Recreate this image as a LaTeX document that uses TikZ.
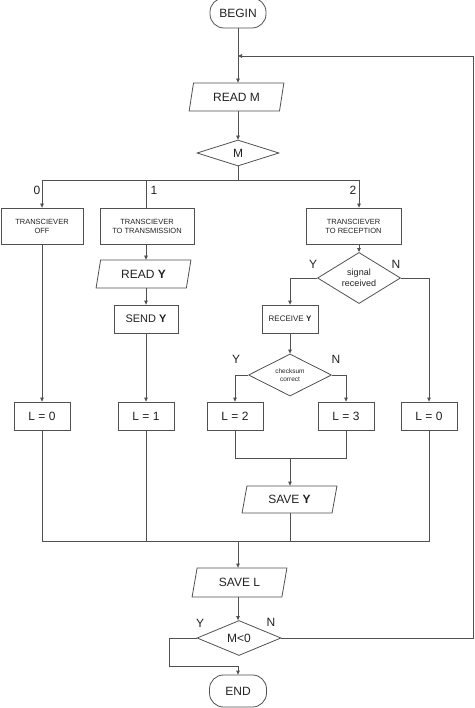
\documentclass[tikz,border=0pt]{standalone}
\usepackage{fontspec}
\setmainfont{Liberation Sans}
\usetikzlibrary{shapes.geometric,arrows.meta}
\definecolor{lc}{HTML}{505050}
\definecolor{tc}{HTML}{222222}
\tikzset{
  line/.style={draw=lc, line width=0.8pt},
  arr/.style={line, -{Triangle[length=4pt,width=3.6pt]}},
  base/.style={draw=lc, line width=0.8pt, inner sep=0pt, align=center, text=tc},
  box/.style={base, rectangle},
  io/.style={base, trapezium, trapezium left angle=74, trapezium right angle=106, trapezium stretches=true},
  dec/.style={base, diamond},
  term/.style={base, rectangle, rounded corners=14pt},
  big/.style={font=\fontsize{12}{14}\selectfont},
  mid/.style={font=\fontsize{11}{13}\selectfont},
  sml/.style={font=\fontsize{7.5}{9}\selectfont},
  lbl/.style={text=tc, inner sep=0pt, font=\fontsize{12}{14}\selectfont},
}
\begin{document}
\begin{tikzpicture}[x=1pt,y=-1pt]
\useasboundingbox (0,0) rectangle (474,708);
% nodes
\node[term,big,minimum width=56pt,minimum height=30pt] (begin) at (238,13) {BEGIN};
\node[io,big,minimum width=95pt,minimum height=28pt] (readm) at (236.5,97) {READ M};
\node[dec,big,minimum width=82pt,minimum height=26pt] (mdec) at (238,153) {M};
\node[box,sml,minimum width=82pt,minimum height=36pt] (off) at (42,226) {TRANSCIEVER\\OFF};
\node[box,sml,minimum width=94pt,minimum height=36pt] (trans) at (147,226) {TRANSCIEVER\\TO TRANSMISSION};
\node[box,sml,minimum width=95pt,minimum height=36pt] (rec) at (353.5,226) {TRANSCIEVER\\TO RECEPTION};
\node[io,big,minimum width=95pt,minimum height=28pt] (ready) at (143.5,274) {READ \textbf{Y}};
\node[box,mid,minimum width=64pt,minimum height=28pt] (sendy) at (146,319) {SEND \textbf{Y}};
\node[dec,font=\fontsize{9}{10.5}\selectfont,minimum width=83pt,minimum height=34pt] (sig) at (359,278) {signal\\received};
\node[box,font=\fontsize{8}{9}\selectfont,minimum width=56pt,minimum height=28pt] (recy) at (290,319) {RECEIVE \textbf{Y}};
\node[dec,font=\fontsize{6.5}{8}\selectfont,minimum width=83pt,minimum height=34pt] (chk) at (290,375) {checksum\\correct};
\node[box,big,minimum width=56pt,minimum height=28pt] (l0) at (42,416) {L = 0};
\node[box,big,minimum width=56pt,minimum height=28pt] (l1) at (146,416) {L = 1};
\node[box,big,minimum width=56pt,minimum height=28pt] (l2) at (235,416) {L = 2};
\node[box,big,minimum width=56pt,minimum height=28pt] (l3) at (346,416) {L = 3};
\node[box,big,minimum width=56pt,minimum height=28pt] (l0b) at (429,416) {L = 0};
\node[io,big,minimum width=95pt,minimum height=27pt] (savey) at (289.5,499.5) {SAVE \textbf{Y}};
\node[io,big,minimum width=95pt,minimum height=29pt] (savel) at (239.5,582.5) {SAVE L};
\node[dec,big,minimum width=84pt,minimum height=35pt] (mlt) at (239,638) {M<0};
\node[term,big,minimum width=57pt,minimum height=32pt] (end) at (238,691) {END};
% labels
\node[lbl] (t0) at (37,190) {0};
\node[lbl] (t1) at (154,190) {1};
\node[lbl] (t2) at (353,190) {2};
\node[lbl] (sy) at (313,264) {Y};
\node[lbl] (sn) at (396,264) {N};
\node[lbl] (cy) at (236,359) {Y};
\node[lbl] (cn) at (336,359) {N};
\node[lbl] (my) at (200,623) {Y};
\node[lbl] (mn) at (271,622) {N};
% coordinates
\coordinate (loopin) at (238,56);
\coordinate (loopr) at (473.5,56);
\coordinate (d0) at (42,180);
\coordinate (d1) at (146,180);
\coordinate (d2) at (359,180);
\coordinate (m1) at (235,458);
\coordinate (m2) at (346,458);
\coordinate (mm) at (290,458);
\coordinate (b0) at (42,541);
\coordinate (b4) at (429,541);
\coordinate (bm) at (238,541);
\coordinate (yl) at (169,638);
\coordinate (yb) at (169,666);
\coordinate (ye) at (238,666);
% connectors
\draw[line] (begin.south) -- (loopin);
\draw[arr] (loopin) -- (begin.south |- readm.north);
\draw[arr] (begin.south |- readm.south) -- (mdec.north);
\draw[line] (mdec.south) -- (mdec.south |- d0);
\draw[line] (d0) -- (d2);
\draw[arr] (d0) -- (off.north);
\draw[line] (d1) -- (trans.north -| d1);
\draw[arr] (d2) -- (d2 |- rec.north);
\draw[arr] (d1 |- trans.south) -- (d1 |- ready.north);
\draw[arr] (d1 |- ready.south) -- (d1 |- sendy.north);
\draw[arr] (d2 |- rec.south) -- (sig.north);
\draw[arr] (sig.west) -| (recy.north);
\draw[arr] (sig.east) -| (l0b.north);
\draw[arr] (recy.south) -- (chk.north);
\draw[arr] (chk.west) -| (l2.north);
\draw[arr] (chk.east) -| (l3.north);
\draw[arr] (off.south) -- (l0.north);
\draw[arr] (sendy.south) -- (l1.north);
\draw[line] (l2.south) -- (m1) -- (m2) -- (l3.south);
\draw[arr] (mm) -- (mm |- savey.north);
\draw[line] (l0.south) -- (b0) -- (b4) -- (l0b.south);
\draw[line] (l1.south) -- (l1.south |- b0);
\draw[line] (mm |- savey.south) -- (mm |- b0);
\draw[arr] (bm) -- (bm |- savel.north);
\draw[arr] (bm |- savel.south) -- (bm |- mlt.north);
\draw[line] (mlt.east) -- (mlt.east -| loopr) -- (loopr);
\draw[arr] (loopr) -- (loopin);
\draw[line] (mlt.west) -- (yl) -- (yb) -- (ye);
\draw[arr] (ye) -- (end.north);
\end{tikzpicture}
\end{document}
